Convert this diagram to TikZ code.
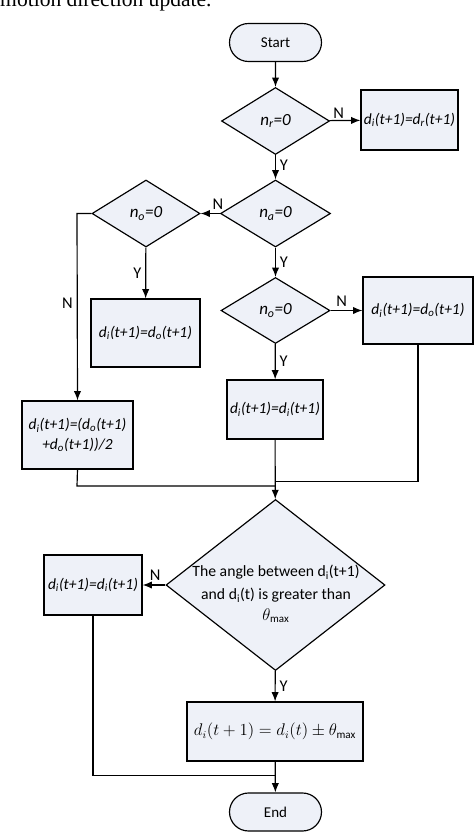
\documentclass[tikz,border=0pt]{standalone}
\usepackage{fontspec}
\setmainfont{Carlito}
\newfontfamily\capfont{Liberation Serif}
\usetikzlibrary{shapes.geometric,shapes.misc,arrows.meta}
\definecolor{boxfill}{RGB}{238,241,248}
\tikzset{
  flow/.style={draw,line width=1pt,fill=boxfill},
  procbox/.style={flow,rectangle,inner sep=0pt,font=\fontsize{13.2}{17}\selectfont\itshape},
  decide/.style={flow,diamond,inner sep=0pt,font=\fontsize{14.5}{17}\selectfont\itshape},
  terminal/.style={flow,rounded rectangle,inner sep=0pt,
    minimum width=2.76cm,minimum height=1.14cm},
  line/.style={line width=1pt},
  arr/.style={line,-{Latex[length=2.8mm,width=2.2mm]}},
  yn/.style={font=\fontsize{14}{15}\selectfont}
}
\newcommand{\sub}[1]{\textsubscript{#1}}
\begin{document}
\begin{tikzpicture}[x=0.03cm,y=-0.03cm,font=\fontsize{12.8}{14}\selectfont]
    \useasboundingbox (0,0) rectangle (474,832);
    \node[anchor=base west,inner sep=0pt,font=\capfont\fontsize{18.4}{20}\selectfont] (cap) at (0,6) {motion direction update.};
    % start and first test
    \node[terminal] (start) at (275.5,42.5) {Start};
    \node[decide,minimum width=3.24cm,minimum height=2.01cm] (nr) at (275.5,121) {n\sub{r}=0};
    \node[procbox,minimum width=2.91cm,minimum height=1.8cm] (dr) at (409.5,120) {d\sub{i}(t+1)=d\sub{r}(t+1)};
    % second row of tests
    \node[decide,minimum width=3.3cm,minimum height=2.01cm] (na) at (275.5,213.5) {n\sub{a}=0};
    \node[decide,minimum width=3.24cm,minimum height=2.01cm] (noL) at (146,213.5) {n\sub{o}=0};
    \node[procbox,minimum width=3.27cm,minimum height=2.04cm] (doL) at (145.5,333) {d\sub{i}(t+1)=d\sub{o}(t+1)};
    \node[decide,minimum width=3.27cm,minimum height=1.98cm] (noR) at (275.5,310.5) {n\sub{o}=0};
    \node[procbox,minimum width=3.3cm,minimum height=2.01cm] (doR) at (418,310.5) {d\sub{i}(t+1)=d\sub{o}(t+1)};
    \node[procbox,minimum width=2.88cm,minimum height=1.77cm] (di) at (275,409.5) {d\sub{i}(t+1)=d\sub{i}(t+1)};
    \node[procbox,minimum width=3.33cm,minimum height=2.04cm,align=center] (avg) at (77.5,435) {d\sub{i}(t+1)=(d\sub{o}(t+1)\\+d\sub{o}(t+1))/2};
    % angle test
    \node[flow,diamond,inner sep=0pt,minimum width=6.57cm,minimum height=5.13cm] (ang) at (275.5,585) {};
    \node[align=center,inner sep=0pt,font=\fontsize{13.4}{19.5}\selectfont] (angtxt) at (276,594) {The angle between d\sub{i}(t+1)\\and d\sub{i}(t) is greater than\\[-2pt]$\theta_{\max}$};
    \node[procbox,minimum width=2.94cm,minimum height=1.8cm] (keep) at (93,585) {d\sub{i}(t+1)=d\sub{i}(t+1)};
    \node[procbox,minimum width=5.28cm,minimum height=1.77cm,font=\fontsize{13.5}{16}\selectfont] (rot) at (275,731.5) {$d_i(t+1)=d_i(t)\pm\theta_{\max}$};
    \node[terminal] (end) at (275.5,812) {End};
    % connectors
    \draw[arr] (start) -- (nr);
    \draw[arr] (nr) -- node[yn,above,pos=0.3,inner sep=1pt] {N} (dr);
    \draw[arr] (nr) -- node[yn,right,pos=0.4] {Y} (na);
    \draw[arr] (na) -- node[yn,above,pos=0.1] {N} (noL);
    \draw[arr] (noL) -- node[yn,left] {Y} (doL);
    \draw[arr] (noL.west) -- (77,213.5) -- node[yn,left,pos=0.48] {N} (avg.north);
    \draw[arr] (na) -- node[yn,right] {Y} (noR);
    \draw[arr] (noR) -- node[yn,above,pos=0.35] {N} (doR);
    \draw[arr] (noR) -- node[yn,right] {Y} (di);
    \draw[line] (avg.south) -- (77,486) -- (275.5,486);
    \draw[line] (doR.south) -- (418,481.5) -- (275.5,481.5);
    \draw[arr] (di) -- (ang);
    \draw[arr] (ang) -- node[yn,above,pos=0.45] {N} (keep);
    \draw[arr] (ang) -- node[yn,right] {Y} (rot);
    \draw[line] (keep.south) -- (93,775.5) -- (275.5,775.5);
    \draw[arr] (rot) -- (end);
  \end{tikzpicture}
\end{document}
